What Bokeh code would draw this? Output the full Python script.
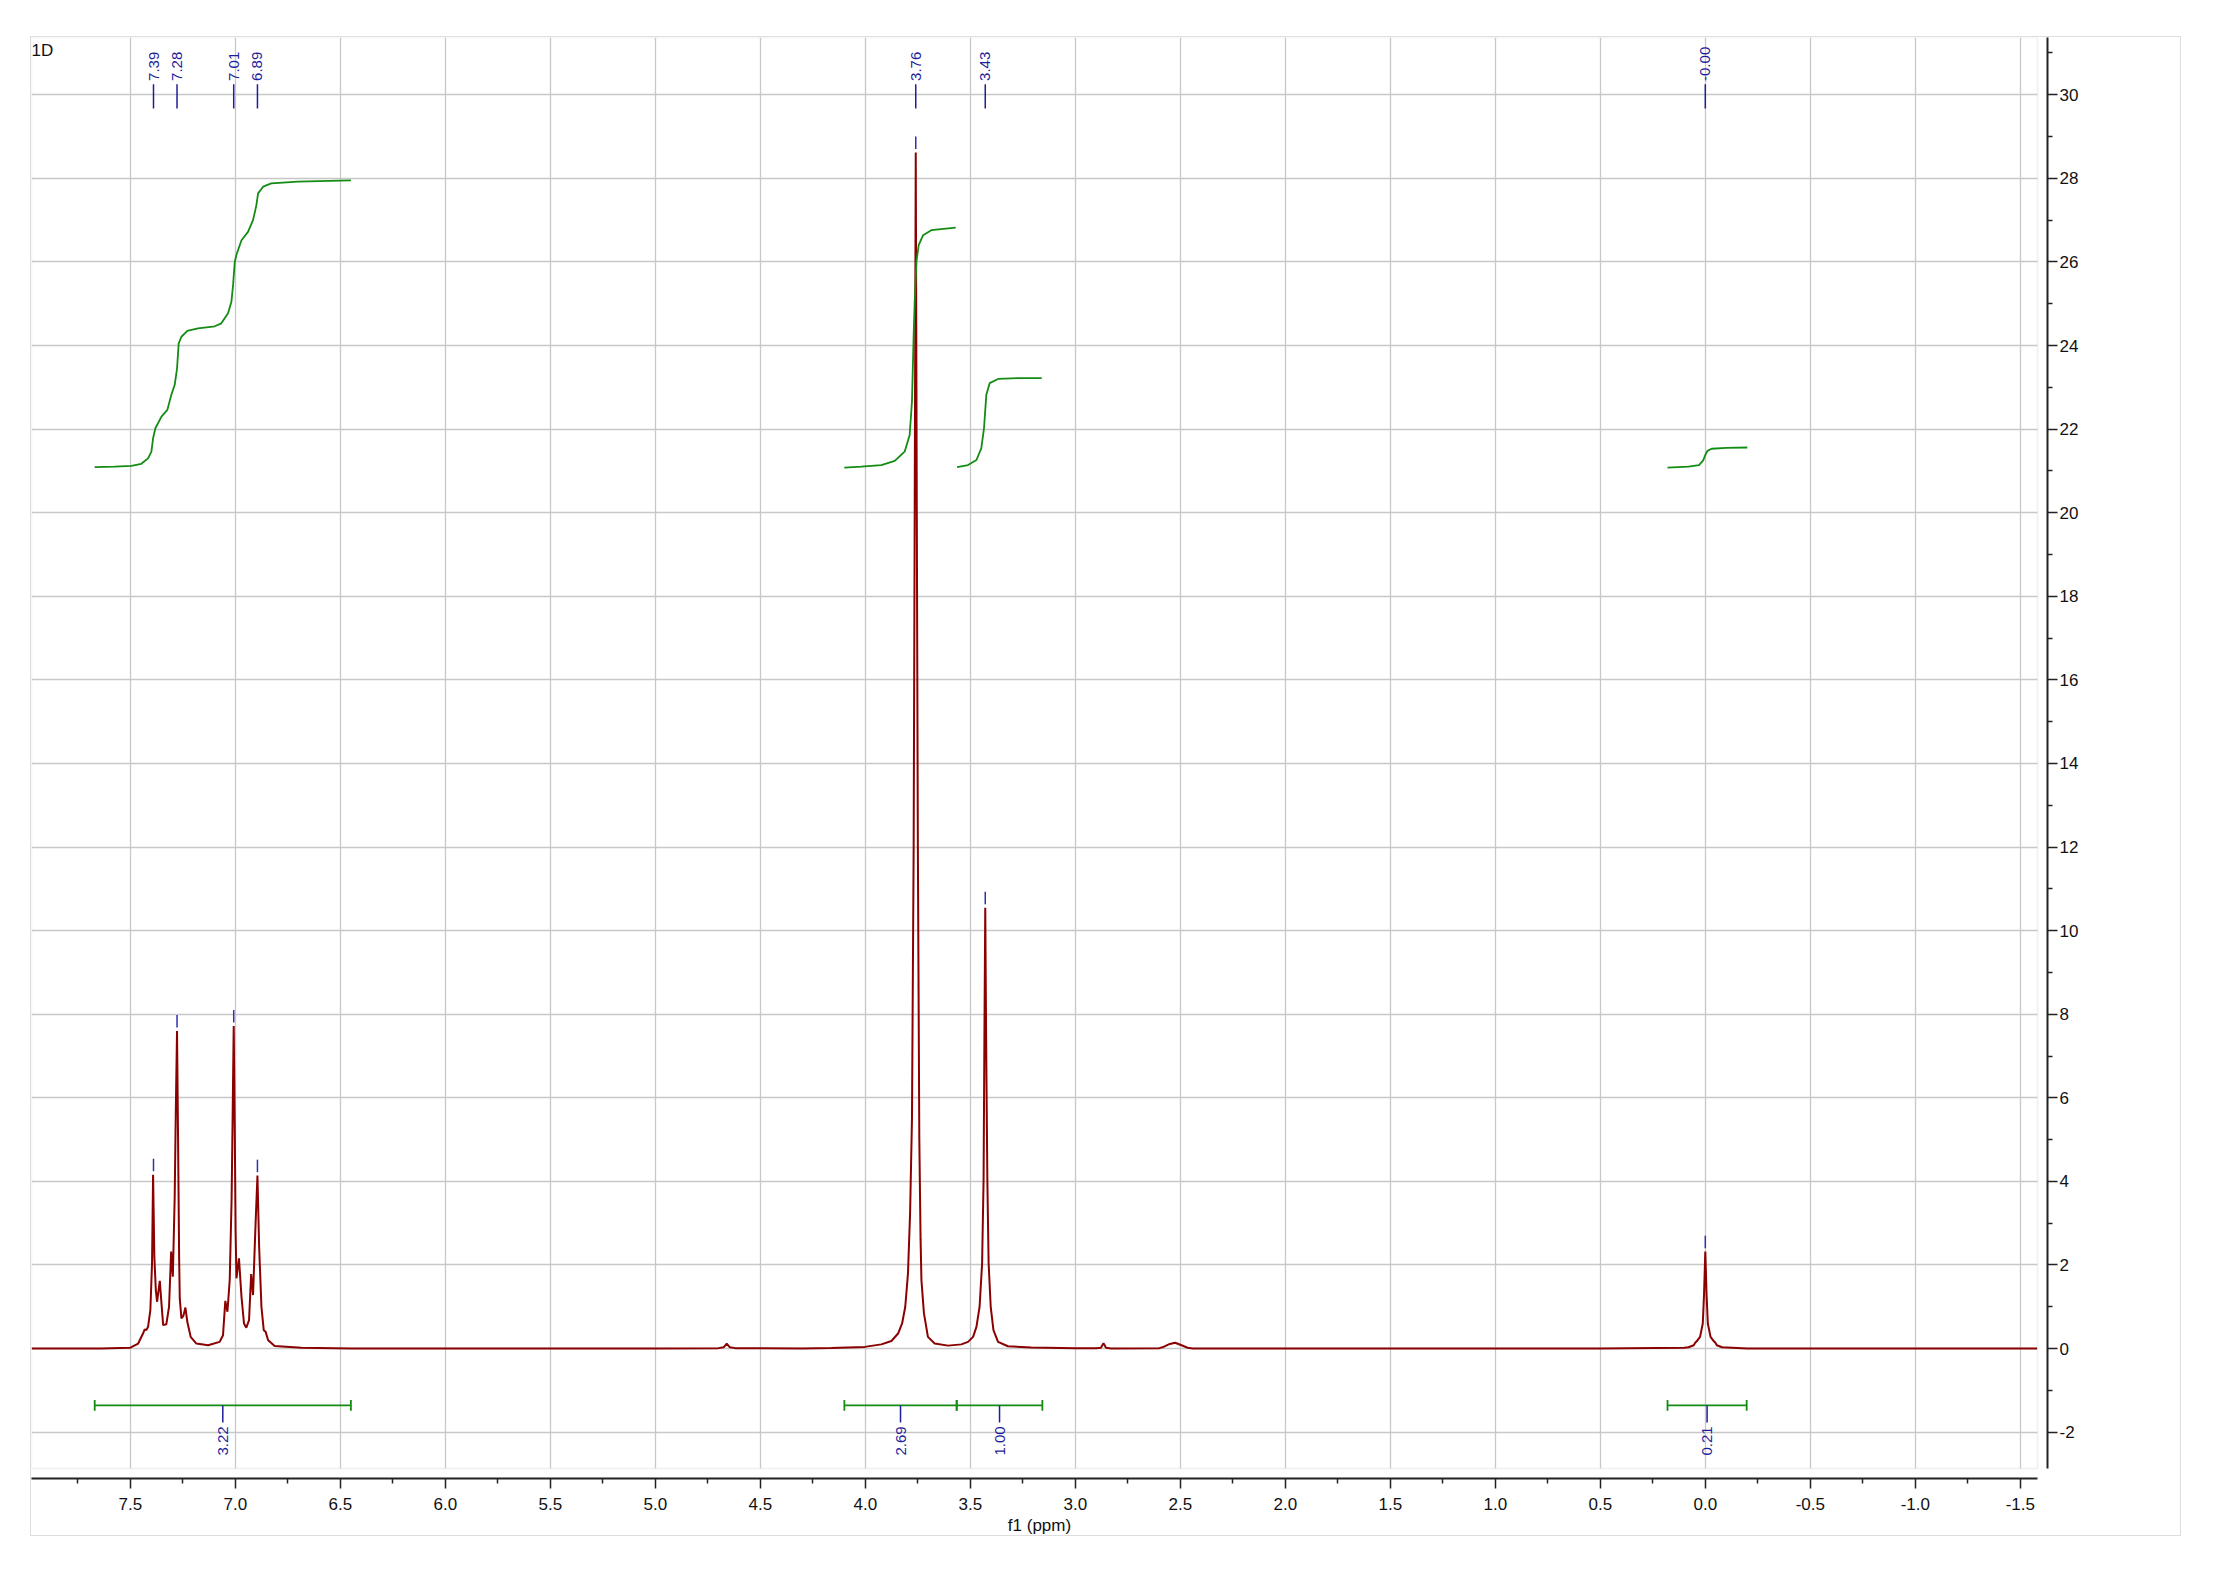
import math
from bokeh.plotting import figure
from bokeh.models import Range1d, Label, FixedTicker, BoxAnnotation
from bokeh.embed import file_html
from bokeh.resources import INLINE
from bokeh.core.properties import value

# ---------------- data ----------------
# 1H spectrum trace (ppm, intensity)
spec_ppm = [7.97, 7.64, 7.50, 7.463, 7.44, 7.432, 7.424, 7.416, 7.405, 7.397, 7.392, 7.386,
            7.379, 7.373, 7.36, 7.352, 7.344, 7.329, 7.316, 7.306, 7.298, 7.289, 7.284, 7.278,
            7.273, 7.268, 7.265, 7.257, 7.248, 7.238, 7.229, 7.213, 7.186, 7.13, 7.075, 7.059,
            7.048, 7.038, 7.027, 7.018, 7.013, 7.008, 7.003, 6.999, 6.995, 6.983, 6.971, 6.959,
            6.948, 6.935, 6.925, 6.916, 6.905, 6.895, 6.887, 6.876, 6.865, 6.856, 6.844, 6.813,
            6.686, 6.45, 5.0, 4.70, 4.675, 4.66, 4.645, 4.62, 4.3, 4.162, 4.003, 3.924, 3.876,
            3.844, 3.825, 3.81, 3.797, 3.787, 3.778, 3.77, 3.765, 3.76, 3.755, 3.75, 3.743,
            3.737, 3.733, 3.721, 3.702, 3.67, 3.606, 3.543, 3.511, 3.487, 3.471, 3.456, 3.444,
            3.437, 3.433, 3.429, 3.425, 3.419, 3.413, 3.403, 3.39, 3.368, 3.321, 3.21, 3.0,
            2.90, 2.878, 2.866, 2.854, 2.83, 2.6, 2.585, 2.55, 2.525, 2.50, 2.465, 2.44, 0.5,
            0.1, 0.08, 0.055, 0.048, 0.04, 0.025, 0.012, 0.006, 0.0, -0.006, -0.012, -0.025,
            -0.04, -0.048, -0.055, -0.08, -0.2, -1.58]
spec_int = [0.0, 0.0, 0.02, 0.12, 0.36, 0.46, 0.44, 0.52, 0.92, 2.04, 4.16, 2.2,
            1.4, 1.12, 1.62, 1.08, 0.56, 0.58, 1.0, 2.32, 1.72, 3.64, 5.6, 7.6,
            5.0, 2.2, 1.2, 0.72, 0.78, 0.98, 0.64, 0.28, 0.12, 0.08, 0.16, 0.32,
            1.14, 0.88, 1.64, 3.6, 5.6, 7.72, 5.2, 2.8, 1.68, 2.16, 1.24, 0.6,
            0.5, 0.68, 1.78, 1.28, 2.84, 4.14, 2.44, 1.0, 0.44, 0.4, 0.2, 0.06,
            0.02, 0.0, 0.0, 0.01, 0.03, 0.12, 0.03, 0.01, 0.0, 0.016, 0.04, 0.1, 0.18,
            0.36, 0.6, 1.0, 1.8, 3.24, 5.5, 12.0, 20.0, 28.62, 20.0, 12.0, 5.0,
            2.6, 1.64, 0.84, 0.28, 0.12, 0.07, 0.1, 0.16, 0.28, 0.52, 1.0, 2.04,
            4.04, 7.5, 10.55, 7.5, 4.04, 2.04, 1.0, 0.44, 0.16, 0.056, 0.024, 0.01,
            0.01, 0.02, 0.13, 0.02, 0.0, 0.01, 0.03, 0.11, 0.14, 0.09, 0.02, 0.0, 0.0,
            0.02, 0.03, 0.08, 0.14, 0.18, 0.28, 0.6, 1.3, 2.32, 1.3, 0.6, 0.28,
            0.18, 0.14, 0.08, 0.03, 0.0, 0.0]

# peak picking
peak_ppm = [7.39, 7.278, 7.008, 6.895, 3.76, 3.429, 0.0]
peak_top = [4.16, 7.6, 7.72, 4.14, 28.62, 10.55, 2.32]
peak_labels = ["7.39", "7.28", "7.01", "6.89", "3.76", "3.43", "-0.00"]

# integration regions
int_start = [7.67, 4.10, 3.565, 0.18]
int_end = [6.45, 3.565, 3.157, -0.197]
int_labels = ["3.22", "2.69", "1.00", "0.21"]

# integral curves (ppm, running integral)
integ_ppm = [
    [7.67, 7.575, 7.495, 7.448, 7.416, 7.40, 7.392, 7.381, 7.352, 7.324, 7.305, 7.289, 7.278,
     7.27, 7.257, 7.229, 7.178, 7.098, 7.067, 7.035, 7.019, 7.011, 7.003, 6.995, 6.971, 6.94,
     6.916, 6.90, 6.892, 6.868, 6.829, 6.702, 6.45],
    [4.10, 4.02, 3.924, 3.86, 3.813, 3.789, 3.778, 3.77, 3.765, 3.757, 3.746, 3.725, 3.686, 3.57],
    [3.563, 3.511, 3.471, 3.448, 3.435, 3.424, 3.408, 3.368, 3.273, 3.16],
    [0.18, 0.08, 0.03, 0.01, 0.0, -0.01, -0.03, -0.1, -0.2],
]
integ_val = [
    [21.09, 21.1, 21.12, 21.17, 21.3, 21.46, 21.78, 22.02, 22.3, 22.46, 22.82, 23.06, 23.45,
     24.05, 24.21, 24.35, 24.41, 24.46, 24.53, 24.77, 25.05, 25.45, 26.0, 26.17, 26.52, 26.72,
     27.0, 27.36, 27.64, 27.8, 27.88, 27.92, 27.95],
    [21.08, 21.1, 21.14, 21.24, 21.46, 21.86, 22.66, 24.25, 25.05, 26.0, 26.4, 26.64, 26.76, 26.82],
    [21.09, 21.14, 21.26, 21.54, 22.02, 22.82, 23.1, 23.2, 23.22, 23.22],
    [21.08, 21.1, 21.14, 21.25, 21.38, 21.48, 21.53, 21.55, 21.56],
]

x_ticks = [7.5, 7.0, 6.5, 6.0, 5.5, 5.0, 4.5, 4.0, 3.5, 3.0, 2.5, 2.0, 1.5, 1.0, 0.5, 0.0, -0.5, -1.0, -1.5]
x_tick_labels = ["7.5", "7.0", "6.5", "6.0", "5.5", "5.0", "4.5", "4.0", "3.5", "3.0", "2.5", "2.0",
                 "1.5", "1.0", "0.5", "0.0", "-0.5", "-1.0", "-1.5"]
y_ticks = [-2, 0, 2, 4, 6, 8, 10, 12, 14, 16, 18, 20, 22, 24, 26, 28, 30]
y_tick_labels = ["-2", "0", "2", "4", "6", "8", "10", "12", "14", "16", "18", "20", "22", "24",
                 "26", "28", "30"]

# ---------------- styling ----------------
RED = "#8b0000"
GREEN = "#148c14"
BLUE = "#1e1e9a"
FONT = "Liberation Sans"

# visible data box (inner frame); the axes sit 10 px outside of it
X_LEFT, X_RIGHT = 7.971, -1.582
Y_BOTTOM, Y_TOP = -2.87, 31.37
GAP_X = 10 / 210.0
GAP_Y = 10 / 41.8

p = figure(width=2151, height=1500, output_backend="svg", toolbar_location=None,
           x_range=Range1d(X_LEFT, X_RIGHT - GAP_X), y_range=Range1d(Y_BOTTOM - GAP_Y, Y_TOP),
           x_axis_location="below", y_axis_location="right",
           min_border_left=0, min_border_top=0, min_border_right=135, min_border_bottom=58)
p.margin = (36, 0, 0, 30)
p.styles = {"border": "1px solid #dedede"}
p.outline_line_color = None
p.background_fill_color = "white"
p.border_fill_color = "white"

p.add_layout(BoxAnnotation(left=X_LEFT, right=X_RIGHT, bottom=Y_BOTTOM, top=Y_TOP,
                           fill_color=None, line_color="#cccccc", line_width=1.5,
                           level="underlay"))

# axes
p.xaxis.ticker = FixedTicker(ticks=x_ticks,
                             minor_ticks=[t + 0.25 for t in x_ticks])
p.xaxis.major_label_overrides = {t: l for t, l in zip(x_ticks, x_tick_labels)}
p.yaxis.ticker = FixedTicker(ticks=y_ticks, minor_ticks=[t + 1 for t in y_ticks])
p.yaxis.major_label_overrides = {t: l for t, l in zip(y_ticks, y_tick_labels)}
p.xaxis.bounds = (X_RIGHT, X_LEFT)
p.yaxis.bounds = (Y_BOTTOM, Y_TOP)
p.xaxis.axis_label = "f1 (ppm)"
for ax in (p.xaxis, p.yaxis):
    ax.axis_line_color = "#222222"
    ax.axis_line_width = 2
    ax.major_tick_line_color = "#222222"
    ax.minor_tick_line_color = "#222222"
    ax.major_tick_line_width = 1.5
    ax.minor_tick_line_width = 1.5
    ax.major_tick_in = 0
    ax.minor_tick_in = 0
    ax.major_tick_out = 10
    ax.minor_tick_out = 5
    ax.major_label_text_font = FONT
    ax.major_label_text_font_size = "17px"
    ax.major_label_text_color = "#111111"
p.xaxis.major_label_standoff = 9
p.yaxis.major_label_standoff = 2
p.xaxis.axis_label_text_font = FONT
p.xaxis.axis_label_text_font_size = "17px"
p.xaxis.axis_label_text_font_style = "normal"
p.xaxis.axis_label_text_color = "#111111"
p.xaxis.axis_label_standoff = 3

p.grid.grid_line_color = "#c8c8c8"
p.grid.grid_line_width = 1.3
p.xgrid.cross_bounds = (Y_BOTTOM, Y_TOP)
p.ygrid.cross_bounds = (X_RIGHT, X_LEFT)

# spectrum
p.line(spec_ppm, spec_int, line_color=RED, line_width=2)

# integral curves
p.multi_line(integ_ppm, integ_val, line_color=GREEN, line_width=1.8)

# integration bars
bar_y = -1.36
cap = 0.13
p.segment(x0=int_start, y0=[bar_y] * 4, x1=int_end, y1=[bar_y] * 4, line_color=GREEN, line_width=1.8)
cap_x = int_start + int_end
p.segment(x0=cap_x, y0=[bar_y - cap] * len(cap_x), x1=cap_x, y1=[bar_y + cap] * len(cap_x),
          line_color=GREEN, line_width=1.8)
int_mid = [(a + b) / 2 for a, b in zip(int_start, int_end)]
p.segment(x0=int_mid, y0=[bar_y] * 4, x1=int_mid, y1=[-1.77] * 4, line_color=BLUE, line_width=1.5)
p.text(x=int_mid, y=[-1.86] * 4, text=int_labels, angle=math.pi / 2, text_align="right",
       text_baseline="middle", text_color=BLUE, text_font=value(FONT), text_font_size="15px")

# peak labels
n = len(peak_ppm)
p.segment(x0=peak_ppm, y0=[29.67] * n, x1=peak_ppm, y1=[30.25] * n, line_color=BLUE, line_width=1.5)
p.text(x=peak_ppm, y=[30.33] * n, text=peak_labels, angle=math.pi / 2, text_align="left",
       text_baseline="middle", text_color=BLUE, text_font=value(FONT), text_font_size="15px")
# markers above peak tops
p.segment(x0=peak_ppm, y0=[h + 0.08 for h in peak_top], x1=peak_ppm,
          y1=[h + 0.38 for h in peak_top], line_color="#3030b0", line_width=1.5)

p.add_layout(Label(x=0, y=1438, x_units="screen", y_units="screen", text="1D",
                   text_baseline="top", text_font=FONT, text_font_size="17px",
                   text_color="#111111"))

open("out.html", "w").write(file_html(p, INLINE))
